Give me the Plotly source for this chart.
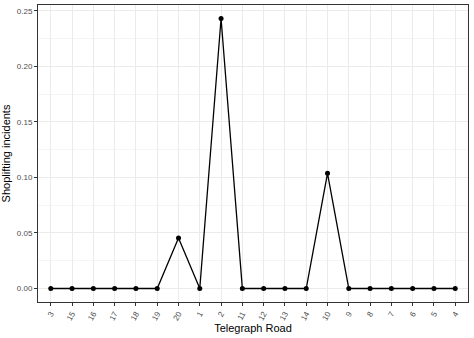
import plotly.graph_objects as go

roads = ["3", "15", "16", "17", "18", "19", "20", "1", "2", "11", "12", "13", "14", "10", "9", "8", "7", "6", "5", "4"]
incidents = [0, 0, 0, 0, 0, 0, 0.0455, 0, 0.243, 0, 0, 0, 0, 0.1037, 0, 0, 0, 0, 0, 0]
y_ticks = [0.0, 0.05, 0.10, 0.15, 0.20, 0.25]
y_tick_labels = ["0.00", "0.05", "0.10", "0.15", "0.20", "0.25"]

fig = go.Figure()
fig.add_trace(go.Scatter(
    x=roads, y=incidents, mode="lines+markers",
    line=dict(color="black", width=1.3),
    marker=dict(color="black", size=5),
    showlegend=False,
))

lo = -0.05 * max(incidents)
hi = max(incidents) * 1.05

fig.update_layout(
    width=474, height=338,
    margin=dict(l=38, r=6, t=5, b=36),
    paper_bgcolor="white", plot_bgcolor="white",
    font=dict(family="Liberation Sans, Arial, sans-serif", color="#4d4d4d"),
    xaxis=dict(
        type="category", categoryorder="array", categoryarray=roads,
        range=[-0.6, len(roads) - 0.4],
        showgrid=True, gridcolor="#ebebeb", gridwidth=1,
        showline=True, linecolor="#333333", linewidth=1, mirror=True,
        ticks="outside", ticklen=3, tickcolor="#333333", tickwidth=1,
        tickangle=-60, tickfont=dict(size=8, color="#4d4d4d"),
        title=dict(text="Telegraph Road", font=dict(size=11, color="black"), standoff=2),
        zeroline=False,
    ),
    yaxis=dict(
        range=[lo, hi],
        tickvals=y_ticks, ticktext=y_tick_labels,
        showgrid=True, gridcolor="#ebebeb", gridwidth=1,
        minor=dict(tickvals=[0.025, 0.075, 0.125, 0.175, 0.225], showgrid=True, gridcolor="#f5f5f5", gridwidth=0.6, ticks=""),
        showline=True, linecolor="#333333", linewidth=1, mirror=True,
        ticks="outside", ticklen=3, tickcolor="#333333", tickwidth=1,
        tickfont=dict(size=8, color="#4d4d4d"),
        title=dict(text="Shoplifting incidents", font=dict(size=11, color="black"), standoff=4),
        zeroline=False,
    ),
)

fig.write_html("out.html")
